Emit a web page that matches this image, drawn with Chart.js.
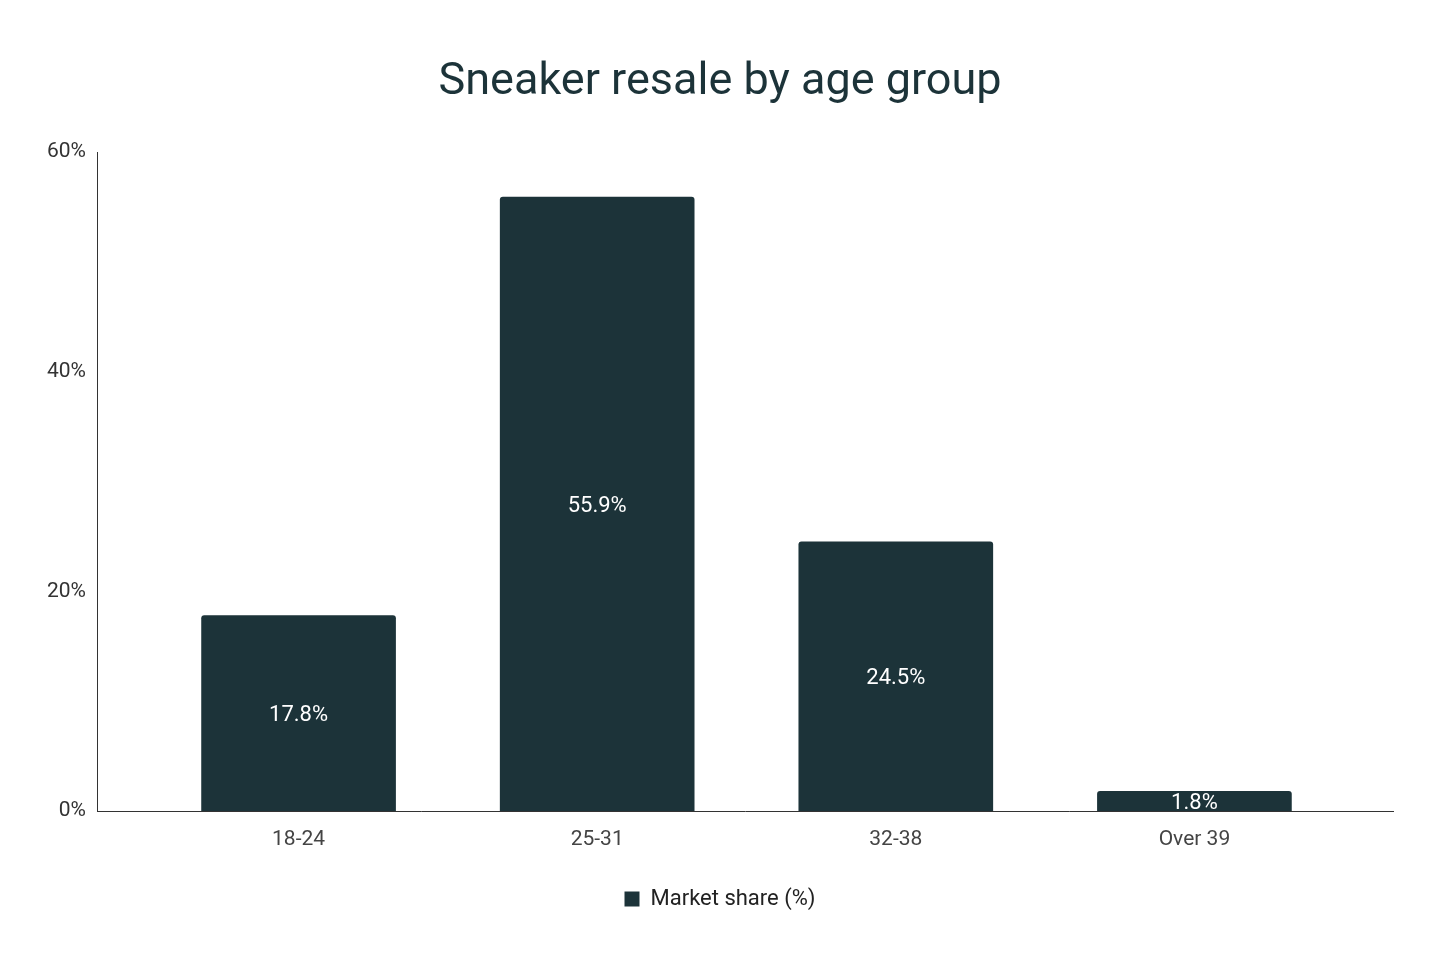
<!DOCTYPE html>
<html>
<head>
<meta charset="utf-8">
<script src="https://cdn.jsdelivr.net/npm/chart.js@4"></script>
<style>
    html, body { margin: 0; padding: 0; background: #ffffff; }
    #wrap { width: 1440px; height: 960px; }
</style>
</head>
<body>
<div id="wrap"><canvas id="resaleChart" width="1440" height="960"></canvas></div>
<script>
const ageGroups = ["18-24", "25-31", "32-38", "Over 39"];
const marketShare = [17.8, 55.9, 24.5, 1.8];
const yTicks = [0, 20, 40, 60];

const barColor = '#1c3339';

// draws the value in the middle of each bar
const barLabels = {
    id: 'barLabels',
    afterDatasetsDraw(chart) {
        const ctx = chart.ctx;
        const meta = chart.getDatasetMeta(0);
        ctx.save();
        ctx.fillStyle = '#ffffff';
        ctx.font = '22px Roboto';
        ctx.textAlign = 'center';
        ctx.textBaseline = 'middle';
        meta.data.forEach((bar, i) => {
            const mid = (bar.y + bar.base) / 2 + 2;
            ctx.fillText(marketShare[i] + '%', bar.x, mid);
        });
        ctx.restore();
    }
};

document.addEventListener('DOMContentLoaded', function () {
    const ctx = document.getElementById('resaleChart').getContext('2d');

    const data = {
        datasets: [{
            label: 'Market share (%)',
            data: marketShare.map((v, i) => ({ x: i, y: v })),
            backgroundColor: barColor,
            borderColor: barColor,
            borderWidth: 0,
            borderRadius: { topLeft: 3, topRight: 3 },
            borderSkipped: 'bottom',
            barThickness: 194
        }]
    };

    const config = {
        type: 'bar',
        data: data,
        plugins: [barLabels],
        options: {
            responsive: false,
            animation: false,
            layout: { padding: { left: 47, right: 47, top: 0, bottom: 40 } },
            plugins: {
                title: {
                    display: true,
                    text: 'Sneaker resale by age group',
                    color: '#1c3339',
                    font: { family: 'Roboto', size: 45, weight: 'normal' },
                    padding: { top: 56, bottom: 42 }
                },
                legend: {
                    position: 'bottom',
                    labels: {
                        color: '#222222',
                        font: { family: 'Roboto', size: 22 },
                        boxWidth: 15,
                        boxHeight: 15,
                        padding: 20
                    }
                },
                tooltip: { enabled: false }
            },
            scales: {
                x: {
                    type: 'linear',
                    offset: false,
                    min: -0.675,
                    max: 3.665,
                    grid: { display: false, drawTicks: false },
                    border: { display: true, color: '#333333', width: 1 },
                    afterBuildTicks: scale => {
                        scale.ticks = ageGroups.map((_, i) => ({ value: i }));
                    },
                    afterFit: scale => { scale.height = 57; },
                    ticks: {
                        color: '#444444',
                        font: { family: 'Roboto', size: 21 },
                        padding: 16,
                        callback: value => ageGroups[value]
                    }
                },
                y: {
                    min: 0,
                    max: 60,
                    grid: { display: false, drawTicks: false },
                    border: { display: true, color: '#333333', width: 1 },
                    afterBuildTicks: scale => {
                        scale.ticks = yTicks.map(v => ({ value: v }));
                    },
                    afterFit: scale => { scale.width = 50; },
                    ticks: {
                        color: '#333333',
                        font: { family: 'Roboto', size: 21 },
                        padding: 11,
                        callback: value => value + '%'
                    }
                }
            }
        }
    };

    const myChart = new Chart(ctx, config);
});
</script>
</body>
</html>
